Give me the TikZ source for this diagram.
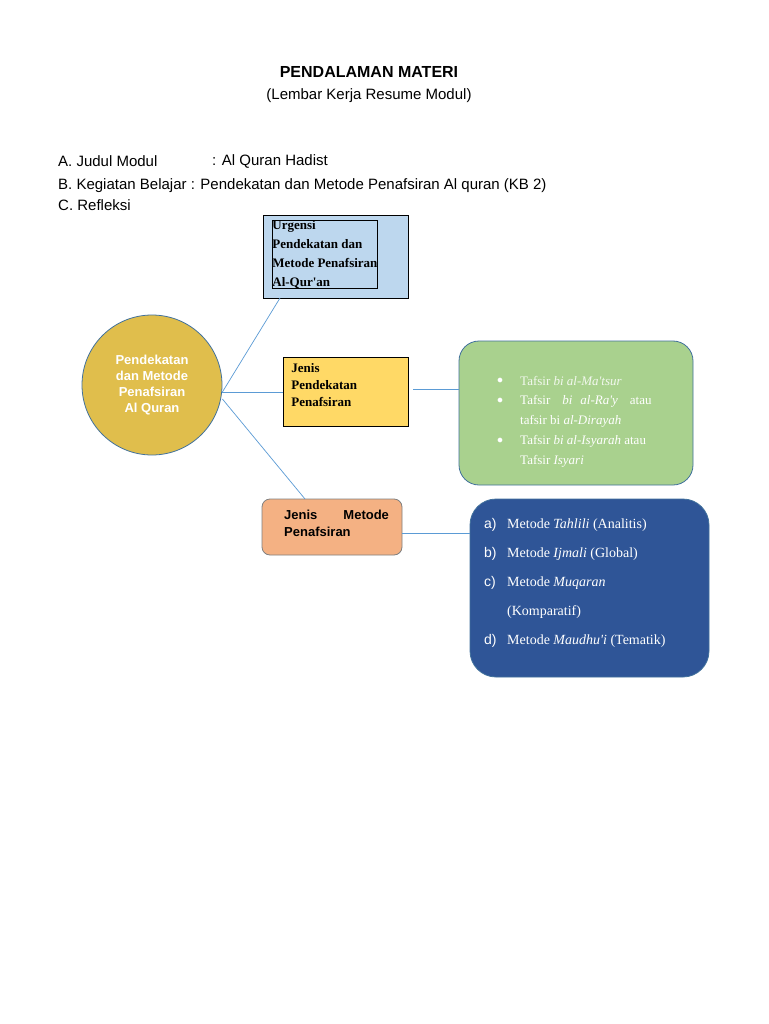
\documentclass[tikz,border=0pt]{standalone}
\usepackage{fontspec}
\setmainfont{Liberation Sans}
\newfontfamily\serifx{Liberation Serif}
\begin{document}
\begin{tikzpicture}[x=1pt,y=-1pt,
  conn/.style={draw=blue!45!cyan!60!gray, line width=0.7pt},
  sqbox/.style={draw=black, line width=0.8pt, anchor=north west, inner sep=0pt},
  body/.style={font=\fontsize{15}{18}\selectfont, anchor=west, inner sep=0pt},
  wt/.style={text=white, anchor=west, inner sep=0pt}]
\definecolor{lblue}{HTML}{BDD7EE}
\definecolor{gold}{HTML}{E0BE4C}
\definecolor{yel}{HTML}{FFD966}
\definecolor{peach}{HTML}{F4B183}
\definecolor{grn}{HTML}{A9D18E}
\definecolor{dblue}{HTML}{2F5597}
\definecolor{edge}{HTML}{41719C}
\definecolor{lnc}{HTML}{5B9BD5}
\useasboundingbox (0,0) rectangle (768,1024);
\fill[white] (0,0) rectangle (768,1024);
\node[font=\bfseries\fontsize{16}{19}\selectfont] (title) at (369,72) {PENDALAMAN MATERI};
\node[font=\fontsize{15}{18}\selectfont] (sub) at (369,96) {(Lembar Kerja Resume Modul)};
\node[body] (a) at (58,161) {A. Judul Modul};
\node[body] (a2) at (212,161) {: Al Quran Hadist};
\node[body] (b) at (58,186) {B. Kegiatan Belajar : Pendekatan dan Metode Penafsiran Al quran (KB 2)};
\node[body] (c) at (58,205) {C. Refleksi};
% shapes
\node[draw=edge, line width=0.8pt, fill=gold, circle, minimum size=140pt, inner sep=0pt,
  text=white, font=\bfseries\fontsize{13}{16}\selectfont, align=center] (circ) at (152,385)
  {Pendekatan\\dan Metode\\Penafsiran\\Al Quran};
\fill[lblue] (263,215) rectangle (408,298);
\draw[line width=0.8pt] (263,215) rectangle (408,298);
\node[sqbox, fill=none, font=\serifx\bfseries\fontsize{13}{19}\selectfont, align=left] (urg) at (272,220)
  {Urgensi\\Pendekatan dan\\Metode Penafsiran\\Al-Qur'an};
\coordinate (urgb) at (280,298);
\fill[yel] (283,357) rectangle (408,426);
\draw[line width=0.8pt] (283,357) rectangle (408,426);
\node[sqbox, font=\serifx\bfseries\fontsize{13}{17}\selectfont, align=left, draw=none] (jp) at (291,363)
  {Jenis\\Pendekatan\\Penafsiran};
\coordinate (jpl) at (283,392);
\coordinate (jpr) at (413,389);
\draw[draw=gray, line width=0.8pt, fill=peach, rounded corners=8pt] (262,499) rectangle (402,555);
\node[wt, text=black, font=\bfseries\fontsize{13}{16}\selectfont] (jm1) at (284,515) {Jenis\hspace{26pt}Metode};
\node[wt, text=black, font=\bfseries\fontsize{13}{16}\selectfont] (jm2) at (284,532) {Penafsiran};
\coordinate (jmt) at (305,499);
\coordinate (jmr) at (402,533);
\draw[draw=edge, line width=0.8pt, fill=grn, rounded corners=20pt] (459,341) rectangle (693,485);
\draw[draw=edge, line width=0.8pt, fill=dblue, rounded corners=26pt] (470,499) rectangle (709,677);
\coordinate (gl) at (459,389);
\coordinate (bl) at (470,533);
% green text
\begin{scope}[every node/.style={wt, font=\serifx\fontsize{13}{16}\selectfont}]
\node (g0) at (497,381) {$\bullet$};
\node (g1) at (520,381) {\textcolor{white!85!grn}{Tafsir \textit{bi al-Ma'tsur}}};
\node (g2b) at (497,401) {$\bullet$};
\node (g2) at (520,401) {Tafsir\hspace{12pt}\textit{bi\hspace{8pt}al-Ra'y}\hspace{12pt}atau};
\node (g3) at (520,421) {tafsir bi \textit{al-Dirayah}};
\node (g4b) at (497,441) {$\bullet$};
\node (g4) at (520,441) {Tafsir \textit{bi al-Isyarah} atau};
\node (g5) at (520,461) {Tafsir \textit{Isyari}};
\end{scope}
\begin{scope}[every node/.style={wt, font=\serifx\fontsize{14}{17}\selectfont}]
\node[font=\fontsize{14}{17}\selectfont] (l1) at (484,525) {a)};
\node (t1) at (507,525) {Metode \textit{Tahlili} (Analitis)};
\node[font=\fontsize{14}{17}\selectfont] (l2) at (484,554) {b)};
\node (t2) at (507,554) {Metode \textit{Ijmali} (Global)};
\node[font=\fontsize{14}{17}\selectfont] (l3) at (484,583) {c)};
\node (t3) at (507,583) {Metode \textit{Muqaran}};
\node (t3b) at (507,612) {(Komparatif)};
\node[font=\fontsize{14}{17}\selectfont] (l4) at (484,641) {d)};
\node (t4) at (507,641) {Metode \textit{Maudhu'i} (Tematik)};
\end{scope}
% connectors
\draw[draw=lnc, line width=0.7pt] (circ.east) ++(0,7) -- (urgb);
\draw[draw=lnc, line width=0.7pt] (circ.east) ++(0,7) -- (jpl);
\draw[draw=lnc, line width=0.7pt] (circ.east) ++(0,14) -- (jmt);
\draw[draw=lnc, line width=0.7pt] (jpr) -- (gl);
\draw[draw=lnc, line width=0.7pt] (jmr) -- (bl);
\end{tikzpicture}
\end{document}
